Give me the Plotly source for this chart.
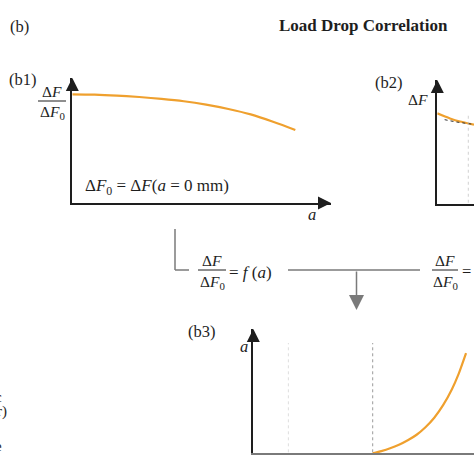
import plotly.graph_objects as go

W = H = 474
SERIF = "Liberation Serif, DejaVu Serif, serif"
ORANGE = "#EFA02E"
GRAY = "#7a7a7a"
INK = "#1e1e1e"

# ---- data ----
# (b1) normalised load drop vs crack length a
b1_a = [0, 1, 2, 3, 4, 5, 6, 7, 8, 9, 10]
b1_ratio = [1.0, 0.997, 0.988, 0.975, 0.958, 0.936, 0.905, 0.865, 0.815, 0.748, 0.672]
# (b2) load drop (visible part) and its dotted fit
b2_x = [0, 0.21, 0.346, 0.619, 1.0]
b2_dF = [7.31, 7.06, 6.90, 6.65, 6.40]
b2_fit_x = [0.2, 0.5, 1.0]
b2_fit_dF = [6.80, 6.62, 6.42]
b2_guide_x = [0.845]
# (b3) crack length vs normalised quantity
b3_x = [0.541, 0.58, 0.62, 0.66, 0.70, 0.74, 0.78, 0.82, 0.86, 0.90, 0.93, 0.964]
b3_a = [0.0, 0.22, 0.5, 0.85, 1.3, 1.85, 2.6, 3.55, 4.8, 6.4, 7.9, 10.0]
b3_guide_x = [0.159, 0.541]
b3_guide_style = ["rgba(200,200,200,0.6)", "#9a9a9a"]

def px(x):
    return x / W

def py(y):
    return 1 - y / H

fig = go.Figure()

# curves
fig.add_trace(go.Scatter(x=b1_a, y=b1_ratio, mode="lines", line=dict(color=ORANGE, width=2.2, shape="spline"),
                         xaxis="x", yaxis="y", hoverinfo="skip"))
fig.add_trace(go.Scatter(x=b2_x, y=b2_dF, mode="lines", line=dict(color=ORANGE, width=2.2, shape="spline"),
                         xaxis="x2", yaxis="y2", hoverinfo="skip"))
fig.add_trace(go.Scatter(x=b2_fit_x, y=b2_fit_dF, mode="lines", line=dict(color="#333", width=1, dash="dot"),
                         xaxis="x2", yaxis="y2", hoverinfo="skip"))
for gx in b2_guide_x:
    fig.add_trace(go.Scatter(x=[gx, gx], y=[0.1, 7.3], mode="lines",
                             line=dict(color="rgba(190,190,190,0.7)", width=1, dash="dot"),
                             xaxis="x2", yaxis="y2", hoverinfo="skip"))
for gx, col in zip(b3_guide_x, b3_guide_style):
    fig.add_trace(go.Scatter(x=[gx, gx], y=[0.1, 11.0], mode="lines",
                             line=dict(color=col, width=1, dash="dot"),
                             xaxis="x3", yaxis="y3", hoverinfo="skip"))
fig.add_trace(go.Scatter(x=b3_x, y=b3_a, mode="lines", line=dict(color=ORANGE, width=2.2, shape="spline", smoothing=0.6),
                         xaxis="x3", yaxis="y3", hoverinfo="skip"))

def ax_style(rng, dom, anchor, color=INK):
    return dict(range=rng, domain=dom, anchor=anchor, showgrid=False, zeroline=False,
                showticklabels=False, ticks="", showline=True, linecolor=color, linewidth=2,
                fixedrange=True)

fig.update_layout(
    xaxis=ax_style([0, 11.6], [px(72.3), px(331)], "y"),
    yaxis=ax_style([0, 1.15], [py(203), py(78)], "x"),
    xaxis2=ax_style([0, 1], [px(437.3), 1], "y2"),
    yaxis2=ax_style([0, 10], [py(204), py(80)], "x2"),
    xaxis3=ax_style([0, 1], [px(253.3), 1], "y3", color=GRAY),
    yaxis3=ax_style([0, 12.4], [py(453.3), py(329)], "x3"),
)

ann = []

def arrow(x, y, xref, yref, dx, dy, color=INK, width=2, size=1.3):
    ann.append(dict(x=x, y=y, xref=xref, yref=yref, ax=dx, ay=dy, axref="pixel", ayref="pixel",
                    text="", showarrow=True, arrowhead=2, arrowsize=size, arrowwidth=width,
                    arrowcolor=color))

# axis arrowheads
arrow(11.6, 0, "x", "y", -14, 0)
arrow(0, 1.15, "x", "y", 0, 14)
arrow(0, 10, "x2", "y2", 0, 14)
arrow(0, 12.4, "x3", "y3", 0, 14)

def text(x, y, s, size=16.5, xanchor="center", color=INK):
    ann.append(dict(x=px(x), y=py(y), xref="paper", yref="paper", text=s, showarrow=False,
                    xanchor=xanchor, yanchor="middle",
                    font=dict(family=SERIF, size=size, color=color)))

shapes = []

def seg(x0, y0, x1, y1, color=GRAY, width=1.5):
    shapes.append(dict(type="line", xref="paper", yref="paper", x0=px(x0), y0=py(y0),
                       x1=px(x1), y1=py(y1), line=dict(color=color, width=width)))

def frac(cx, cy, x0, x1, size=15.5):
    text(cx, cy - 10, "Δ<i>F</i>", size)
    text(cx, cy + 12, "Δ<i>F</i><sub>0</sub>", size)
    seg(x0, cy, x1, cy, color=INK, width=1)

text(19, 26, "(b)")
text(363, 25, "<b>Load Drop Correlation</b>", 17)

# b1
text(22.5, 80, "(b1)")
frac(52, 101, 38, 66)
text(157, 187, "Δ<i>F</i><sub>0</sub> = Δ<i>F</i>(<i>a</i> = 0 mm)", 17)
text(311.7, 214, "<i>a</i>")

# b2
text(389, 83, "(b2)")
text(418, 99, "Δ<i>F</i>", 15.5)

# connectors
seg(175, 229, 175, 270)
seg(175, 270, 189, 270)
seg(288, 270, 420, 270)
ann.append(dict(x=px(356.5), y=py(310), xref="paper", yref="paper", ax=0, ay=-40,
                text="", showarrow=True, arrowhead=2, arrowsize=2.0, arrowwidth=1.5,
                arrowcolor=GRAY))
frac(212, 270, 198, 226)
text(227, 272, "= <i>f</i> (<i>a</i>)", 17, xanchor="left")
frac(445, 270, 432, 458)
text(460, 271, "=", 16.5, xanchor="left")

# b3
text(201.5, 331, "(b3)")
text(244.3, 346.7, "<i>a</i>")

# cut-off fragments at left edge (as in the cropped reference)
text(4, 397, "c", 15, xanchor="right")
text(9, 411, "r)", 15, xanchor="right")
text(4, 446, "e", 15, xanchor="right")

fig.update_layout(width=W, height=H, autosize=False, margin=dict(l=0, r=0, t=0, b=0),
                  paper_bgcolor="white", plot_bgcolor="white", showlegend=False,
                  annotations=ann, shapes=shapes)

fig.write_html("out.html")
